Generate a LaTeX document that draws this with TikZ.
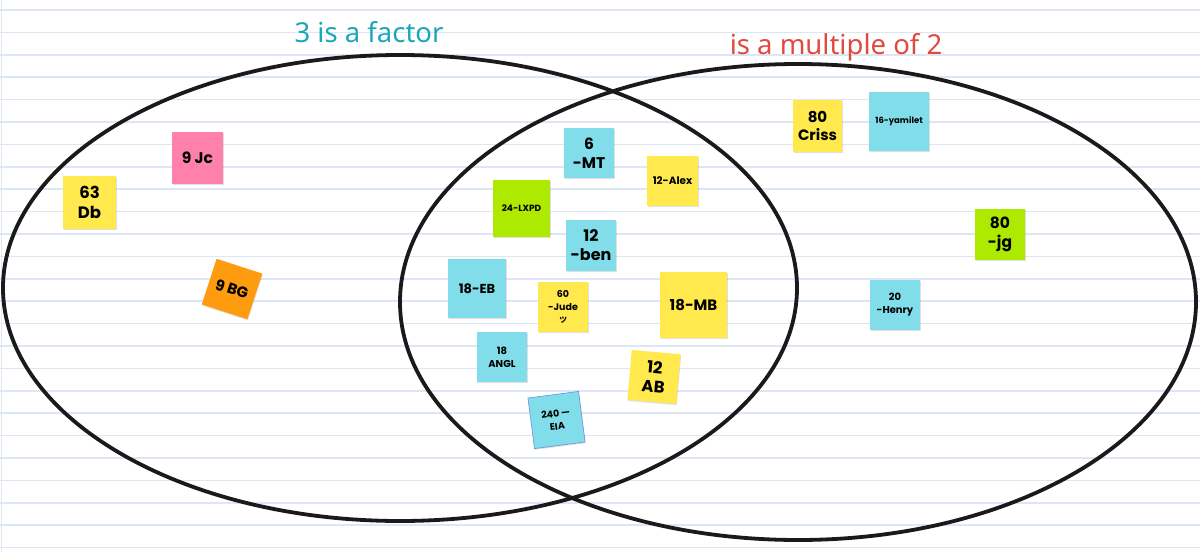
\documentclass[tikz,border=0pt]{standalone}
\usepackage{fontspec}
\newfontfamily\notefont{Poppins}[UprightFont={* Bold}]
\newfontfamily\titlefont{Noto Sans}
\newfontfamily\cjkfont{Noto Sans CJK JP}[UprightFont={* Bold}]
\usetikzlibrary{shadows}
\definecolor{paperline}{HTML}{DCE6F4}
\definecolor{notecyan}{HTML}{80DDE9}
\definecolor{noteyellow}{HTML}{FFE94D}
\definecolor{notepink}{HTML}{FF80AB}
\definecolor{noteorange}{HTML}{FF9B0F}
\definecolor{notegreen}{HTML}{AEEA00}
\definecolor{titleteal}{HTML}{1BA7BA}
\definecolor{titlered}{HTML}{E04A3F}
\definecolor{inkline}{HTML}{1A1A1A}
\definecolor{noteborder}{HTML}{6A8FE0}
\tikzset{
  sticky/.style={fill=#1, inner sep=0pt, minimum width=50pt, minimum height=50pt,
    align=center, text=black,
    drop shadow={shadow xshift=0.6pt, shadow yshift=-1.2pt, opacity=0.12, fill=black}},
  vennline/.style={draw=inkline, line width=3.8pt},
  title/.style={font=\titlefont\fontsize{27.5}{30}\selectfont, inner sep=0pt}
}
\newcommand{\nf}[2]{\notefont\fontsize{#1}{#2}\selectfont}
\begin{document}
\begin{tikzpicture}[x=1pt, y=-1pt]
\useasboundingbox (0,0) rectangle (1200,552);
\fill[white] (0,0) rectangle (1200,552);
% ruled paper
\foreach \k in {0,...,24} {
  \draw[paperline, line width=1.6pt] (0,{10+22.4*\k}) -- (1200,{10+22.4*\k});
}
\draw[paperline, line width=1.2pt] (1.5,0) -- (1.5,552);

% Venn ellipses
\draw[vennline] (400,288) ellipse [x radius=397pt, y radius=233pt];
\draw[vennline] (798,302) ellipse [x radius=398pt, y radius=238pt];

% titles
\node[title, text=titleteal] (tfactor) at (369,32) {3 is a factor};
\node[title, text=titlered] (tmult) at (836,47) {is a multiple of 2};

% left only
\node[sticky=notepink, minimum width=51pt, minimum height=52pt, font=\nf{15.5}{18}] (n9jc) at (197.5,158) {9 Jc};
\node[sticky=noteyellow, minimum width=53pt, minimum height=53pt, font=\nf{16.5}{20}] (n63db) at (89.5,202.5) {63\\Db};
\node[sticky=noteorange, minimum width=48pt, minimum height=48pt, rotate=-18, font=\nf{15}{18}] (n9bg) at (232,289) {9 BG};

% intersection
\node[sticky=notecyan, minimum width=50pt, minimum height=50pt, font=\nf{15.5}{19}] (n6mt) at (589,153) {6\\-MT};
\node[sticky=noteyellow, minimum width=51pt, minimum height=50pt, font=\nf{10.5}{12}] (n12alex) at (672.5,181) {12-Alex};
\node[sticky=notegreen, minimum width=57pt, minimum height=57pt, font=\nf{9}{11}] (n24lxpd) at (521.5,208.5) {24-LXPD};
\node[sticky=notecyan, minimum width=50pt, minimum height=51pt, font=\nf{16}{19}] (n12ben) at (591,245.5) {12\\-ben};
\node[sticky=notecyan, minimum width=58pt, minimum height=59pt, font=\nf{13}{15}] (n18eb) at (477,288.5) {18-EB};
\node[sticky=noteyellow, minimum width=50pt, minimum height=50pt, font=\nf{9.5}{12.5}] (n60jude) at (563,307) {60\\-Jude\\{\cjkfont ッ}};
\node[sticky=noteyellow, minimum width=67pt, minimum height=66pt, font=\nf{15}{18}] (n18mb) at (693.5,305) {18-MB};
\node[sticky=notecyan, minimum width=50pt, minimum height=50pt, font=\nf{10}{13}] (n18angl) at (502,357) {18\\ANGL};
\node[sticky=noteyellow, minimum width=49pt, minimum height=50pt, rotate=-5, font=\nf{16.5}{19}] (n12ab) at (654,377) {12\\AB};
\node[sticky=notecyan, draw=noteborder, line width=0.6pt, minimum width=51pt, minimum height=51pt, rotate=7.4, font=\nf{9.5}{13}] (n240eia) at (556.5,420) {240 —\\EIA};

% right only
\node[sticky=noteyellow, minimum width=49pt, minimum height=52pt, font=\nf{15}{18}] (n80criss) at (817.5,126) {80\\Criss};
\node[sticky=notecyan, minimum width=60pt, minimum height=59pt, font=\nf{8.5}{10}] (n16yam) at (899,121.5) {16-yamilet};
\node[sticky=notegreen, minimum width=50pt, minimum height=51pt, font=\nf{15.5}{19}] (n80jg) at (1000,234.5) {80\\-jg};
\node[sticky=notecyan, minimum width=50pt, minimum height=50pt, font=\nf{10}{13}] (n20henry) at (895,305) {20\\-Henry};
\end{tikzpicture}
\end{document}
